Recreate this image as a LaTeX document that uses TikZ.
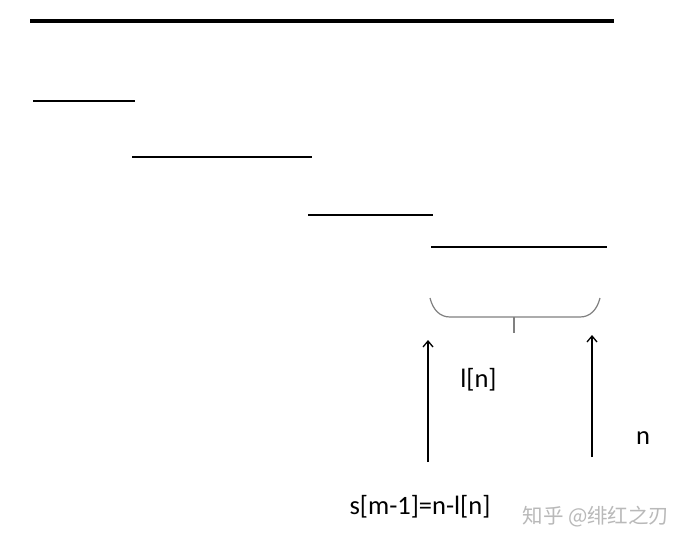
\documentclass[tikz,border=0pt]{standalone}
\usepackage{fontspec}
\setmainfont{Carlito}
\newfontfamily\cjk{Noto Sans CJK SC}
\usetikzlibrary{arrows.meta}
\definecolor{bracegray}{RGB}{128,128,128}
\definecolor{wmgray}{RGB}{185,185,185}
\begin{document}
\begin{tikzpicture}[x=1pt,y=-1pt,
  seg/.style={line width=1.3pt},
  upar/.style={line width=1.3pt,-{Straight Barb[length=6pt,width=10pt,line width=1.3pt]}},
  lbl/.style={font=\fontsize{26.5}{28}\selectfont,inner sep=0pt}]
\useasboundingbox (0,0) rectangle (688,546);
\fill[white] (0,0) rectangle (688,546);
% top thick line
\coordinate (t1) at (30,21); \coordinate (t2) at (614,21);
\draw[line width=4pt] (t1) -- (t2);
% steps
\coordinate (a1) at (33,101); \coordinate (a2) at (135,101);
\coordinate (b1) at (132,157); \coordinate (b2) at (312,157);
\coordinate (c1) at (308,215); \coordinate (c2) at (433,215);
\coordinate (d1) at (431,247); \coordinate (d2) at (607,247);
\draw[seg] (a1) -- (a2);
\draw[seg] (b1) -- (b2);
\draw[seg] (c1) -- (c2);
\draw[seg] (d1) -- (d2);
% brace
\coordinate (bl) at (430,298); \coordinate (br) at (600,298);
\coordinate (bm) at (514,317); \coordinate (bt) at (514,333);
\draw[bracegray,line width=1.2pt] (bl) .. controls (433,310) and (440,317) .. (450,317)
  -- (580,317) .. controls (590,317) and (597,310) .. (br);
\draw[bracegray,line width=1.2pt] (bm) -- (bt);
% arrows
\coordinate (l0) at (428,462); \coordinate (l1) at (428,340);
\coordinate (r0) at (592,457); \coordinate (r1) at (592,335);
\draw[upar] (l0) -- (l1);
\draw[upar] (r0) -- (r1);
% labels
\node[lbl] (ln) at (478.5,380) {l[n]};
\node[lbl] (n) at (643,438) {n};
\node[lbl] (s) at (420,507) {s[m-1]=n-l[n]};
\node[font=\cjk\fontsize{20.5}{22}\selectfont,text=wmgray,inner sep=0pt] (wm) at (596,517) {知乎 @绯红之刃};
\end{tikzpicture}
\end{document}
